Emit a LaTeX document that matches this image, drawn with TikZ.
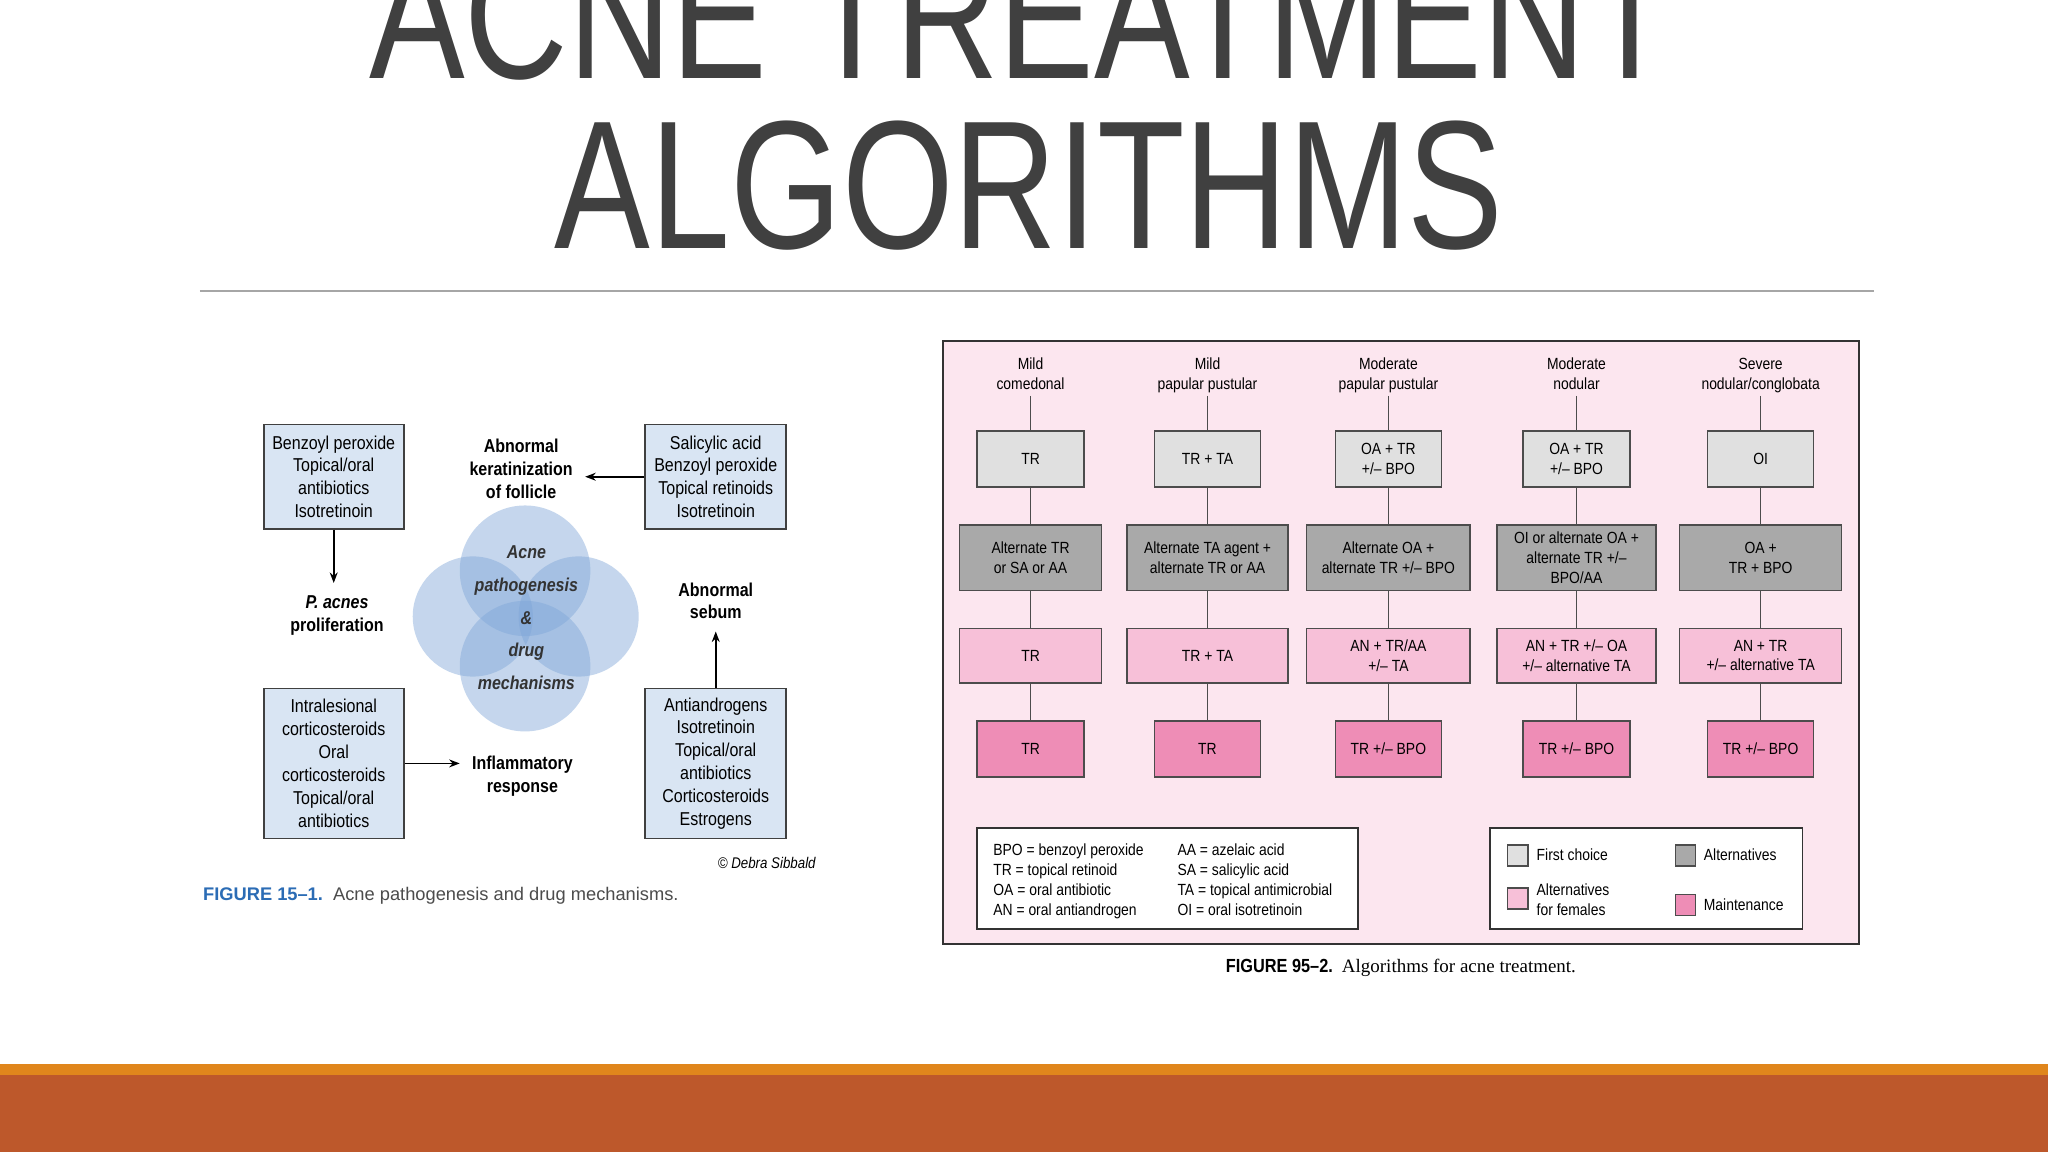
\documentclass[tikz,border=0pt]{standalone}
\usepackage{fontspec}
\setmainfont{Liberation Sans}
\newfontfamily\narrowf[FakeStretch=0.86]{Liberation Sans}
\newfontfamily\titlef[FakeStretch=0.785]{Liberation Sans}
\newfontfamily\serf{Liberation Serif}
\definecolor{titlegray}{HTML}{404040}
\definecolor{lblue}{HTML}{D9E5F3}
\definecolor{cblue}{HTML}{7FA6D8}
\definecolor{bgpink}{HTML}{FCE6EF}
\definecolor{lgray}{HTML}{E0E0E0}
\definecolor{dgray}{HTML}{A9A9A9}
\definecolor{lpink}{HTML}{F7C0D8}
\definecolor{dpink}{HTML}{EE8DB6}
\definecolor{orbar}{HTML}{E0861C}
\definecolor{rustbar}{HTML}{BD582B}
\definecolor{figblue}{HTML}{2B6CB5}
\usetikzlibrary{arrows.meta}
\tikzset{
 lbox/.style={draw=black!75,fill=lblue,line width=0.5pt,align=center,inner sep=0pt,font=\narrowf\fontsize{5.3}{6.5}\selectfont},
 lab/.style={align=center,font=\narrowf\bfseries\fontsize{5.3}{6.5}\selectfont},
 rbox/.style={draw=black!70,line width=0.4pt,align=center,inner sep=0pt,font=\narrowf\fontsize{4.6}{5.6}\selectfont},
 hd/.style={align=center,anchor=base,font=\narrowf\fontsize{4.6}{5.6}\selectfont,inner sep=0pt},
 arr/.style={-{Stealth[length=3pt]},line width=0.5pt},
 ln/.style={line width=0.4pt,draw=black!70},
 leg/.style={anchor=base west,font=\narrowf\fontsize{4.6}{5.6}\selectfont,inner sep=0pt}
}
\begin{document}
\begin{tikzpicture}[x=0.013061cm,y=-0.013061cm]
\useasboundingbox (0,0) rectangle (1568,882);
\fill[white] (0,0) rectangle (1568,882);
% title
\node[anchor=base,text=titlegray,font=\titlef\fontsize{52}{60}\selectfont,inner sep=0] (t1) at (782,60) {ACNE TREATMENT};
\node[anchor=base,text=titlegray,font=\titlef\fontsize{52}{60}\selectfont,inner sep=0] (t2) at (788,190) {ALGORITHMS};
\draw[black!35,line width=0.5pt] (153,223) -- (1435,223);
\fill[orbar] (0,815) rectangle (1568,823);
\fill[rustbar] (0,823) rectangle (1568,882);
% left figure circles
\begin{scope}[fill opacity=0.45]
\fill[cblue] (402,437) circle (50);
\fill[cblue] (443,472) circle (46);
\fill[cblue] (362,472) circle (46);
\fill[cblue] (402,510) circle (50);
\end{scope}
\node[lab,font=\narrowf\bfseries\itshape\fontsize{5.3}{9.3}\selectfont,text=black!80] (core) at (403,473) {Acne\\pathogenesis\\\&\\drug\\mechanisms};
% boxes
\node[lbox,minimum width=1.4cm,minimum height=1.045cm] (b1) at (255.5,365) {Benzoyl peroxide\\Topical/oral\\antibiotics\\Isotretinoin};
\node[lbox,minimum width=1.41cm,minimum height=1.045cm] (b2) at (548,365) {Salicylic acid\\Benzoyl peroxide\\Topical retinoids\\Isotretinoin};
\node[lbox,minimum width=1.4cm,minimum height=1.5cm] (b3) at (255.5,584.5) {Intralesional\\corticosteroids\\Oral\\corticosteroids\\Topical/oral\\antibiotics};
\node[lbox,minimum width=1.41cm,minimum height=1.5cm] (b4) at (548,584.5) {Antiandrogens\\Isotretinoin\\Topical/oral\\antibiotics\\Corticosteroids\\Estrogens};
\node[lab] (k) at (399,359) {Abnormal\\keratinization\\of follicle};
\node[lab] (p) at (258,471) {\itshape P. acnes\\proliferation};
\node[lab] (s) at (548,460) {Abnormal\\sebum};
\node[lab] (r) at (400,594) {Inflammatory\\response};
\draw[arr] (b1.south) -- (b1.south |- p.north);
\draw[arr] (b2.west) -- (b2.west -| k.east);
\draw[arr] (b4.north) -- (b4.north |- s.south);
\draw[arr] (b3.east) -- (b3.east -| r.west);
\node[anchor=east,font=\narrowf\itshape\fontsize{4.4}{5}\selectfont,inner sep=0] (cr) at (625,661) {© Debra Sibbald};
\node[anchor=west,inner sep=0,font=\fontsize{5.2}{6}\selectfont] (f1) at (155,686) {\textcolor{figblue}{\bfseries FIGURE 15–1.}\ \ \textcolor{black!70}{Acne pathogenesis and drug mechanisms.}};
% right figure
\draw[fill=bgpink,draw=black!80,line width=0.6pt] (722,261) rectangle (1423,723);
\foreach \i/\x/\a/\b/\ra/\rb/\rc/\rd/\wA/\wB in {
 1/789/{Mild}/{comedonal}/{TR}/{Alternate TR\\or SA or AA}/{TR}/{TR}/82/109,
 2/924.5/{Mild}/{papular pustular}/{TR + TA}/{Alternate TA agent +\\alternate TR or AA}/{TR + TA}/{TR}/81/123,
 3/1063/{Moderate}/{papular pustular}/{OA + TR\\+/– BPO}/{Alternate OA +\\alternate TR +/– BPO}/{AN + TR/AA\\+/– TA}/{TR +/– BPO}/81/125,
 4/1207/{Moderate}/{nodular}/{OA + TR\\+/– BPO}/{OI or alternate OA +\\alternate TR +/–\\BPO/AA}/{AN + TR +/– OA\\+/– alternative TA}/{TR +/– BPO}/82/122,
 5/1348/{Severe}/{nodular/conglobata}/{OI}/{OA +\\TR + BPO}/{AN + TR\\+/– alternative TA}/{TR +/– BPO}/81/124}{
 \node[hd] (h\i) at (\x,298) {\a\\\b};
 \coordinate (c\i) at (\x,303);
 \node[rbox,fill=lgray,minimum width=\wA*0.013061cm,minimum height=43*0.013061cm] (r1\i) at (\x,351.5) {\ra};
 \node[rbox,fill=dgray,minimum width=\wB*0.013061cm,minimum height=50*0.013061cm] (r2\i) at (\x,427) {\rb};
 \node[rbox,fill=lpink,minimum width=\wB*0.013061cm,minimum height=42*0.013061cm] (r3\i) at (\x,502) {\rc};
 \node[rbox,fill=dpink,minimum width=\wA*0.013061cm,minimum height=43*0.013061cm] (r4\i) at (\x,573.5) {\rd};
 \draw[ln] (c\i) -- (r1\i.north);
 \draw[ln] (r1\i) -- (r2\i);
 \draw[ln] (r2\i) -- (r3\i);
 \draw[ln] (r3\i) -- (r4\i);
}
\draw[fill=white,draw=black!80,line width=0.5pt] (748,634) rectangle (1040,711);
\foreach \t [count=\j] in {BPO = benzoyl peroxide,TR = topical retinoid,OA = oral antibiotic,AN = oral antiandrogen}
 \node[leg] (la\j) at (760,640+15.3*\j) {\t};
\foreach \t [count=\j] in {AA = azelaic acid,SA = salicylic acid,TA = topical antimicrobial,OI = oral isotretinoin}
 \node[leg] (lb\j) at (901,640+15.3*\j) {\t};
\draw[fill=white,draw=black!80,line width=0.5pt] (1141,634) rectangle (1380,711);
\draw[fill=lgray,draw=black!70] (1154,647) rectangle (1170,663);
\draw[fill=dgray,draw=black!70] (1283,647) rectangle (1298,663);
\draw[fill=lpink,draw=black!70] (1154,680) rectangle (1170,696);
\draw[fill=dpink,draw=black!70] (1283,685) rectangle (1298,701);
\node[leg] (g1) at (1176,659) {First choice};
\node[leg] (g2) at (1304,659) {Alternatives};
\node[leg,anchor=west,align=left] (g3) at (1176,689) {Alternatives\\for females};
\node[leg] (g4) at (1304,697) {Maintenance};
\node[anchor=west,inner sep=0,font=\fontsize{5.4}{6}\selectfont] (f2) at (938,741) {\narrowf\bfseries FIGURE 95–2.\ \ \serf\mdseries Algorithms for acne treatment.};
\end{tikzpicture}
\end{document}
